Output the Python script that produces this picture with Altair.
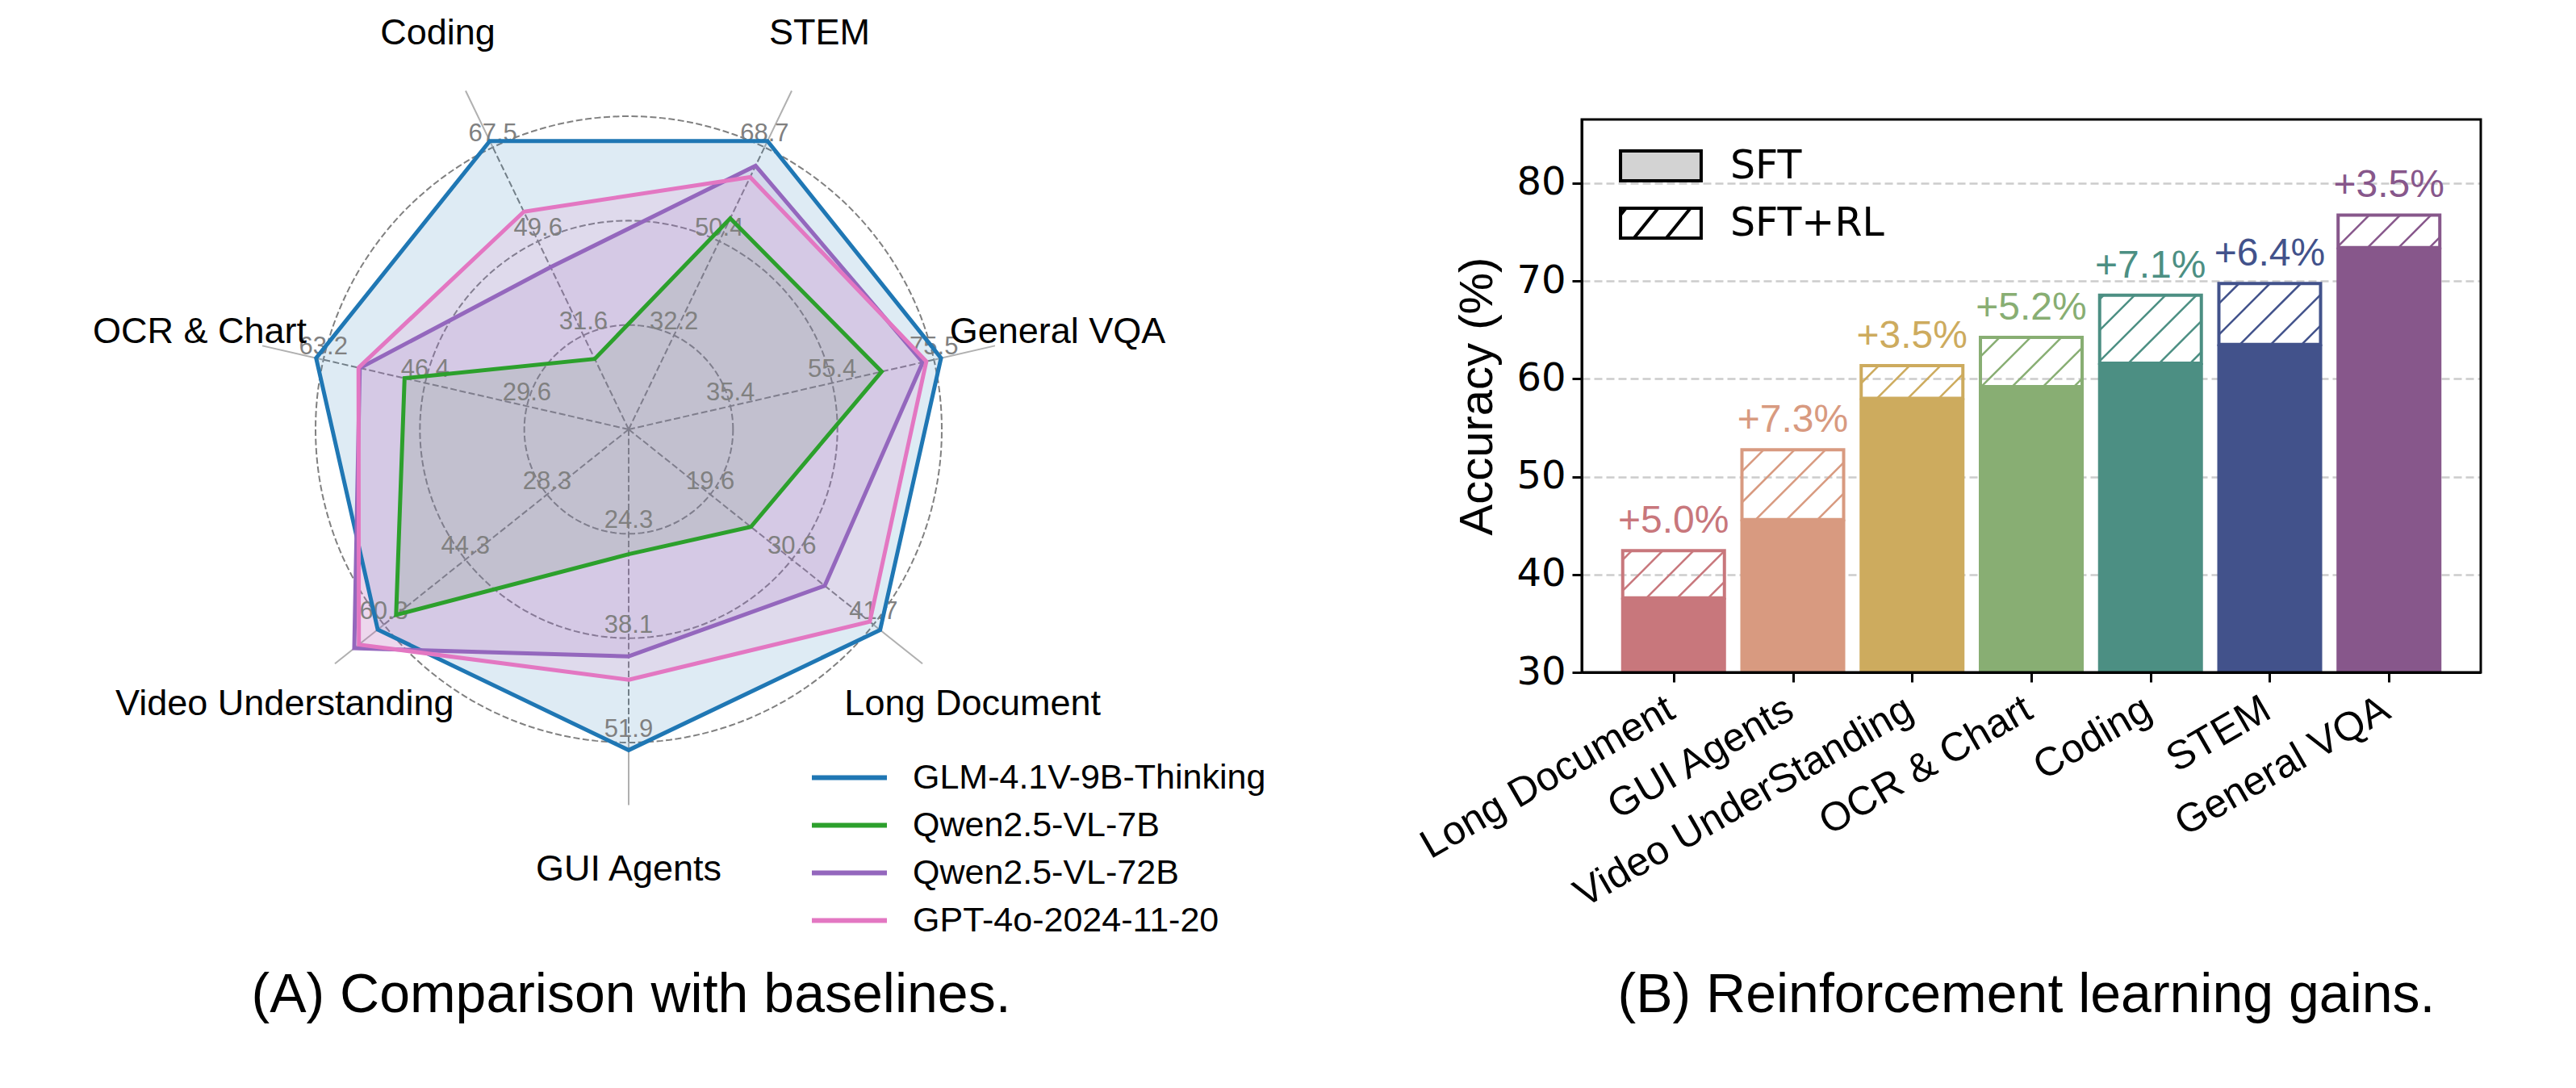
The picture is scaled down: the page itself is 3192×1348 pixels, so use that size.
import json
import numpy as np
import pandas as pd
import altair as alt

# ---------------- data: radar (A) ----------------
radar_axes = ["GUI Agents", "Long Document", "General VQA", "STEM",
              "Coding", "OCR & Chart", "Video Understanding"]
# tick labels on each axis (inner, middle, outer ring)
tick_gui = [24.3, 38.1, 51.9]
tick_longdoc = [19.6, 30.6, 41.7]
tick_vqa = [35.4, 55.4, 75.5]
tick_stem = [32.2, 50.4, 68.7]
tick_coding = [31.6, 49.6, 67.5]
tick_ocr = [29.6, 46.4, 63.2]
tick_video = [28.3, 44.3, 60.3]
radar_ticks = [tick_gui, tick_longdoc, tick_vqa, tick_stem, tick_coding, tick_ocr, tick_video]

models = ["GLM-4.1V-9B-Thinking", "Qwen2.5-VL-7B", "Qwen2.5-VL-72B", "GPT-4o-2024-11-20"]
model_colors = ["#1f77b4", "#2ca02c", "#9467bd", "#e377c2"]
glm = [52.9, 42.6, 76.9, 69.9, 68.7, 64.4, 61.5]
qwen7 = [27.0, 25.1, 65.2, 54.9, 27.1, 49.8, 57.9]
qwen72 = [40.5, 35.1, 73.3, 65.1, 44.6, 57.2, 66.1]
gpt4o = [43.6, 41.2, 74.0, 62.9, 55.2, 57.4, 65.2]
model_values = [glm, qwen7, qwen72, gpt4o]

# ---------------- data: bars (B) ----------------
bar_cats = ["Long Document", "GUI Agents", "Video UnderStanding", "OCR & Chart",
            "Coding", "STEM", "General VQA"]
sft = [37.6, 45.6, 58.0, 59.2, 61.6, 63.5, 73.4]
sft_rl = [42.6, 52.9, 61.5, 64.4, 68.7, 69.9, 76.9]
bar_colors = ["#c8777c", "#d89a80", "#cdab5e", "#88ae73", "#4c8f83", "#42528b", "#87578b"]
stages = ["SFT", "SFT+RL"]

FONT = "Liberation Sans"

# ================= radar panel =================
W1, H1 = 1600, 1320
CX, CY = 771.0, 521.0
PX = 388.0
xs = alt.Scale(domain=[-CX / PX, (W1 - CX) / PX], nice=False, zero=False)
ys = alt.Scale(domain=[-(H1 - CY) / PX, CY / PX], nice=False, zero=False)


def RX(f):
    return alt.X(f, type="quantitative", scale=xs, axis=None)


def RY(f):
    return alt.Y(f, type="quantitative", scale=ys, axis=None)


N = len(radar_axes)
ang = np.deg2rad(270 + np.arange(N) * 360.0 / N)
ux, uy = np.cos(ang), np.sin(ang)

rows = []
for m, vals in zip(models, model_values):
    for k in range(N):
        t0, t1, t2 = radar_ticks[k]
        c = t0 - (t2 - t0) / 2.0
        f = (vals[k] - c) / (t2 - c)
        rows.append(dict(model=m, k=k, x=f * ux[k], y=f * uy[k]))
poly = pd.DataFrame(rows)

th = np.linspace(0, 2 * np.pi, 241)
ring_rows = []
for ring in (1, 2, 3):
    for j, t in enumerate(th):
        ring_rows.append(dict(ring=ring, j=j, x=ring / 3.0 * np.cos(t), y=ring / 3.0 * np.sin(t)))
rings = pd.DataFrame(ring_rows)

spokes = pd.DataFrame(dict(x0=0.0 * ux, y0=0.0 * uy, x1=ux, y1=uy, x2=1.2 * ux, y2=1.2 * uy))

tl_rows = []
for k in range(N):
    for i, t in enumerate(radar_ticks[k]):
        fr = (i + 1) / 3.0
        tl_rows.append(dict(x=fr * ux[k], y=fr * uy[k], t="%.1f" % t))
ticklabels = pd.DataFrame(tl_rows)

catlab = pd.DataFrame(dict(x=1.405 * ux, y=1.405 * uy, name=radar_axes))

ring_layer = alt.Chart(rings).mark_line(color="#808080", strokeWidth=2, strokeDash=[8, 3.5]).encode(
    x=RX("x"), y=RY("y"), detail="ring:N", order="j:Q")
dash_spokes = alt.Chart(spokes).mark_rule(color="#808080", strokeWidth=2, strokeDash=[8, 3.5]).encode(
    x=RX("x0"), y=RY("y0"), x2="x1:Q", y2="y1:Q")
solid_spokes = alt.Chart(spokes).mark_rule(color="#b0b0b0", strokeWidth=2).encode(
    x=RX("x1"), y=RY("y1"), x2="x2:Q", y2="y2:Q")

fill_layers = []
for m, col in zip(models, model_colors):
    fill_layers.append(
        alt.Chart(poly[poly.model == m]).mark_line(
            interpolate="linear-closed", fill=col, fillOpacity=0.15, strokeOpacity=0, strokeWidth=0
        ).encode(x=RX("x"), y=RY("y"), order="k:Q")
    )

tick_text = alt.Chart(ticklabels).mark_text(
    font=FONT, fontSize=31, color="#808080", align="center", baseline="alphabetic", dy=-7
).encode(x=RX("x"), y=RY("y"), text="t:N")

lines = alt.Chart(poly).mark_line(interpolate="linear-closed", strokeWidth=5).encode(
    x=RX("x"), y=RY("y"), order="k:Q",
    color=alt.Color("model:N", scale=alt.Scale(domain=models, range=model_colors),
                    legend=alt.Legend(title=None, orient="none", legendX=1023, legendY=931,
                                      symbolType="M-3,0H3", symbolSize=961, symbolStrokeWidth=6,
                                      labelFont=FONT, labelFontSize=43, labelColor="black",
                                      labelLimit=0, labelOffset=57, rowPadding=15, padding=0)))

cat_text = alt.Chart(catlab).mark_text(
    font=FONT, fontSize=45, color="black", align="center", baseline="middle"
).encode(x=RX("x"), y=RY("y"), text="name:N")

cap_a = alt.Chart(pd.DataFrame(dict(t=["(A) Comparison with baselines."]))).mark_text(
    font=FONT, fontSize=68, color="black", align="center", baseline="alphabetic"
).encode(x=alt.value(774), y=alt.value(1243), text="t:N")

radar = alt.layer(ring_layer, dash_spokes, solid_spokes, *fill_layers, tick_text, lines,
                  cat_text, cap_a).properties(width=W1, height=H1)

# ================= bar panel =================
W2, H2 = 1114, 685
XMIN, XMAX = -0.77, 6.77
YMIN, YMAX = 30.0, 86.5
HALF = 0.44
sx = W2 / (XMAX - XMIN)
sy = H2 / (YMAX - YMIN)

bars = pd.DataFrame(dict(cat=bar_cats, idx=list(range(len(bar_cats))), sft=sft, rl=sft_rl))
bars["xl"] = bars["idx"] - HALF
bars["xr"] = bars["idx"] + HALF
bars["base"] = YMIN
bars["label"] = ["+%.1f%%" % round(r - s, 1) for s, r in zip(sft, sft_rl)]

# hatch segments ("/" at 45 degrees in screen space) inside the RL part of each bar
SP, PH = 38.3, 21.9
hrows = []
for i, (cat, s, r) in enumerate(zip(bar_cats, sft, sft_rl)):
    u0 = (i - HALF - XMIN) * sx + 2
    u1 = (i + HALF - XMIN) * sx - 2
    vt = (YMAX - r) * sy + 2
    vb = (YMAX - s) * sy
    kmin = int(np.floor((u0 + vt - PH) / SP)) - 1
    kmax = int(np.ceil((u1 + vb - PH) / SP)) + 1
    for kk in range(kmin, kmax + 1):
        c = PH + SP * kk
        ua = max(u0, c - vb)
        ub = min(u1, c - vt)
        if ub - ua > 0.5:
            hrows.append(dict(cat=cat, hx=XMIN + ua / sx, hy=YMAX - (c - ua) / sy,
                              hx2=XMIN + ub / sx, hy2=YMAX - (c - ub) / sy))
hatch = pd.DataFrame(hrows)

xscale = alt.Scale(domain=[XMIN, XMAX], nice=False, zero=False)
yscale = alt.Scale(domain=[YMIN, YMAX], nice=False, zero=False)
label_expr = json.dumps(bar_cats) + "[datum.value]"
x_axis = alt.Axis(values=list(range(len(bar_cats))), labelExpr=label_expr, title=None, grid=False,
                  labelAngle=-30, labelAlign="right", labelBaseline="top", labelFont=FONT,
                  labelFontSize=50, labelColor="black", labelPadding=8, labelOffset=-16,
                  labelLimit=0, labelOverlap=False, labelFlush=False,
                  domainColor="black", domainWidth=3, tickColor="black", tickWidth=3, tickSize=12)
y_axis = alt.Axis(values=[30, 40, 50, 60, 70, 80], title="Accuracy (%)", titleFont=FONT,
                  titleFontSize=58, titleFontWeight="normal", titleColor="black", titlePadding=18,
                  labelFont="DejaVu Sans", labelFontSize=48, labelColor="black", labelPadding=8,
                  labelFlush=False, labelOverlap=False,
                  grid=True, gridColor="#cccccc", gridDash=[10, 5], gridWidth=2.5,
                  domainColor="black", domainWidth=3, tickColor="black", tickWidth=3, tickSize=12)


def BX(f):
    return alt.X(f, type="quantitative", scale=xscale, axis=x_axis)


def BY(f):
    return alt.Y(f, type="quantitative", scale=yscale, axis=y_axis)


cat_color = alt.Color("cat:N", scale=alt.Scale(domain=bar_cats, range=bar_colors), legend=None)

solid = alt.Chart(bars).mark_rect().encode(x=BX("xl"), x2="xr:Q", y=BY("base"), y2="sft:Q", color=cat_color)
outline = alt.Chart(bars).mark_rect(filled=False, strokeWidth=4, xOffset=2, x2Offset=-2, y2Offset=2).encode(
    x=BX("xl"), x2="xr:Q", y=BY("sft"), y2="rl:Q", color=cat_color)
hatch_layer = alt.Chart(hatch).mark_rule(strokeWidth=2.5).encode(
    x=BX("hx"), y=BY("hy"), x2="hx2:Q", y2="hy2:Q", color=cat_color)
values = alt.Chart(bars).mark_text(font=FONT, fontSize=48, baseline="alphabetic", align="center", dy=-20).encode(
    x=BX("idx"), y=BY("rl"), text="label:N", color=cat_color)

p_sft = "M-2.7,-1H2.7V1H-2.7Z"
p_rl = "M-2.7,-1H2.7V1H-2.7Z M-2.7,-0.556L-2.34,-1 M-1.8,1L-0.18,-1 M0.365,1L1.985,-1"
stage_legend = alt.Legend(title=None, orient="none", legendX=73.5, legendY=170, symbolSize=1369,
                          symbolStrokeColor="black", symbolStrokeWidth=4, symbolOpacity=1,
                          labelFont="DejaVu Sans", labelFontSize=49, labelColor="black",
                          labelLimit=0, labelOffset=61.5, rowPadding=18, padding=0)
legend_pts = alt.Chart(pd.DataFrame(dict(stage=stages))).mark_point(
    opacity=0, strokeWidth=4
).encode(
    x=alt.value(0), y=alt.value(0),
    fill=alt.Fill("stage:N", scale=alt.Scale(domain=stages, range=["#d3d3d3", "#ffffff"]), legend=stage_legend),
    shape=alt.Shape("stage:N", scale=alt.Scale(domain=stages, range=[p_sft, p_rl]), legend=stage_legend),
    stroke=alt.Stroke("stage:N", scale=alt.Scale(domain=stages, range=["#000000", "#000000"]), legend=stage_legend),
)

frame = alt.Chart(pd.DataFrame(dict(a=[0]))).mark_rect(filled=False, stroke="black", strokeWidth=3).encode(
    x=alt.value(0), x2=alt.value(W2), y=alt.value(0), y2=alt.value(H2))

cap_b = alt.Chart(pd.DataFrame(dict(t=["(B) Reinforcement learning gains."]))).mark_text(
    font=FONT, fontSize=68, color="black", align="center", baseline="alphabetic"
).encode(x=alt.value(551), y=alt.value(1106), text="t:N")

bar = alt.layer(solid, outline, hatch_layer, values, legend_pts, frame, cap_b).properties(width=W2, height=H2)

spacer = alt.Chart(pd.DataFrame(dict(a=[0]))).mark_point(opacity=0).encode(
    x=alt.value(0), y=alt.value(0)).properties(width=W2, height=137)

right = alt.vconcat(spacer, bar, spacing=0, bounds="flush")

chart = alt.hconcat(radar, right, spacing=352, bounds="flush").resolve_scale(
    color="independent", fill="independent", shape="independent", stroke="independent"
).properties(padding=0).configure_view(strokeWidth=0)

chart.save("out.html", embed_options={"renderer": "svg", "actions": False})
